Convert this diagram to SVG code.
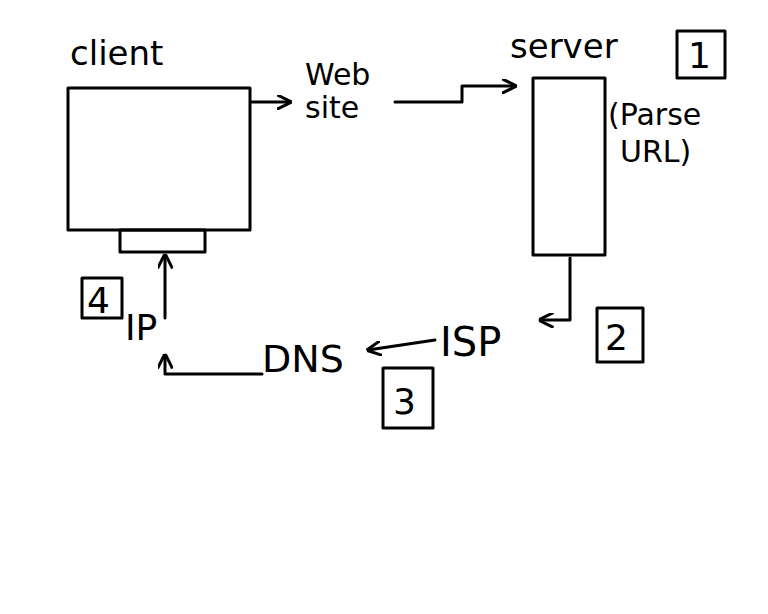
<svg xmlns="http://www.w3.org/2000/svg" width="768" height="614" viewBox="0 0 768 614">
<style>
.s{fill:none;stroke:#000;stroke-width:3;stroke-linecap:round;stroke-linejoin:round}
.t{font-family:"DejaVu Sans",sans-serif;fill:#000}
</style>
<defs><marker id="a" viewBox="0 0 10 10" refX="9" refY="5" markerWidth="5" markerHeight="5" orient="auto"><path d="M0,0 L10,5 L0,10" fill="none" stroke="#000" stroke-width="2"/></marker></defs>
<rect width="768" height="614" fill="#fff"/>
<g id="client"><text class="t" x="70" y="65" font-size="34">client</text>
<rect class="s" x="68" y="88" width="182" height="142"/>
<rect class="s" x="120" y="230" width="85" height="22"/></g>
<g id="website"><text class="t" x="305" y="85" font-size="30">Web</text><text class="t" x="305" y="118" font-size="30">site</text></g>
<g id="server"><text class="t" x="510" y="58" font-size="34">server</text>
<rect class="s" x="533" y="78" width="72" height="177"/>
<text class="t" x="608" y="125" font-size="30">(Parse</text>
<text class="t" x="620" y="162" font-size="30">URL)</text></g>
<g id="isp"><text class="t" x="440" y="356" font-size="40">ISP</text></g>
<g id="dns"><text class="t" x="262" y="372" font-size="38">DNS</text></g>
<g id="ip"><text class="t" x="125" y="340" font-size="36">IP</text></g>
<g id="labels" class="t" font-size="36">
<rect class="s" x="677" y="31" width="48" height="47"/><text x="688" y="68">1</text>
<rect class="s" x="597" y="308" width="46" height="54"/><text x="605" y="350">2</text>
<rect class="s" x="383" y="368" width="50" height="60"/><text x="393" y="414">3</text>
<rect class="s" x="82" y="278" width="40" height="40"/><text x="87" y="313">4</text>
</g>
<g id="connectors" class="s">
<path d="M252,102 L290,102" marker-end="url(#a)"/>
<path d="M395,102 L462,102 L462,86 L515,86" marker-end="url(#a)"/>
<path d="M570,258 L570,320 L540,320" marker-end="url(#a)"/>
<path d="M435,340 L368,350" marker-end="url(#a)"/>
<path d="M262,374 L165,374 L165,355" marker-end="url(#a)"/>
<path d="M165,318 L165,255" marker-end="url(#a)"/>
</g>
</svg>
